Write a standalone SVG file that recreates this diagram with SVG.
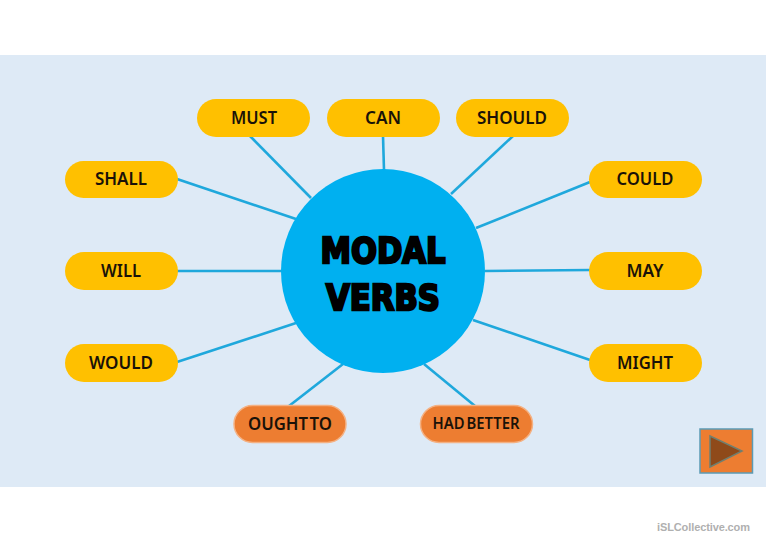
<svg xmlns="http://www.w3.org/2000/svg" width="766" height="542" viewBox="0 0 766 542">
<style>
.n{fill:#ffc000}
.o{fill:#ed7d31;stroke:#f4b183;stroke-width:1.500}
.t{font-family:"Noto Sans","Open Sans",sans-serif;font-weight:600;font-size:18px;fill:#1a1208;text-anchor:middle}
.h{font-family:"DejaVu Sans",sans-serif;font-weight:700;font-size:35px;fill:#000;stroke:#000;stroke-width:2.500;text-anchor:middle}
#connectors line{stroke:#1fa8dc;stroke-width:2.600}
</style>
<rect width="766" height="542" fill="#fff"/>
<rect y="55" width="766" height="432" fill="#deeaf6"/>
<g id="connectors">
<line x1="250" y1="136" x2="311" y2="198"/>
<line x1="383" y1="136" x2="384" y2="170"/>
<line x1="513" y1="136" x2="451" y2="194"/>
<line x1="177" y1="179" x2="296" y2="219"/>
<line x1="590" y1="182" x2="476" y2="228"/>
<line x1="177" y1="271" x2="282" y2="271"/>
<line x1="485" y1="271" x2="590" y2="270"/>
<line x1="177" y1="362" x2="296" y2="323"/>
<line x1="590" y1="360" x2="473" y2="320"/>
<line x1="289" y1="406" x2="343" y2="364"/>
<line x1="475" y1="406" x2="424" y2="364"/>
</g>
<g id="center"><circle cx="383" cy="271" r="102" fill="#00b0f0"/>
<text class="h" x="383" y="263" textLength="125" lengthAdjust="spacingAndGlyphs">MODAL</text>
<text class="h" x="383" y="310" textLength="114" lengthAdjust="spacingAndGlyphs">VERBS</text></g>
<g id="must"><rect class="n" x="197" y="99" width="113" height="38" rx="19"/><text class="t" x="254" y="124" textLength="46" lengthAdjust="spacingAndGlyphs">MUST</text></g>
<g id="can"><rect class="n" x="327" y="99" width="113" height="38" rx="19"/><text class="t" x="383" y="124" textLength="36" lengthAdjust="spacingAndGlyphs">CAN</text></g>
<g id="should"><rect class="n" x="456" y="99" width="113" height="38" rx="19"/><text class="t" x="512" y="124" textLength="70" lengthAdjust="spacingAndGlyphs">SHOULD</text></g>
<g id="shall"><rect class="n" x="65" y="161" width="113" height="37" rx="18.500"/><text class="t" x="121" y="185" textLength="52" lengthAdjust="spacingAndGlyphs">SHALL</text></g>
<g id="could"><rect class="n" x="589" y="161" width="113" height="37" rx="18.500"/><text class="t" x="645" y="185" textLength="57" lengthAdjust="spacingAndGlyphs">COULD</text></g>
<g id="will"><rect class="n" x="65" y="252" width="113" height="38" rx="19"/><text class="t" x="121" y="277" textLength="40" lengthAdjust="spacingAndGlyphs">WILL</text></g>
<g id="may"><rect class="n" x="589" y="252" width="113" height="38" rx="19"/><text class="t" x="645" y="277" textLength="37" lengthAdjust="spacingAndGlyphs">MAY</text></g>
<g id="would"><rect class="n" x="65" y="344" width="113" height="38" rx="19"/><text class="t" x="121" y="369" textLength="64" lengthAdjust="spacingAndGlyphs">WOULD</text></g>
<g id="might"><rect class="n" x="589" y="344" width="113" height="38" rx="19"/><text class="t" x="645" y="369" textLength="56" lengthAdjust="spacingAndGlyphs">MIGHT</text></g>
<g id="ought-to"><rect class="o" x="234" y="405.500" width="112" height="37" rx="18.500"/><text class="t" x="290" y="430" word-spacing="-3" textLength="84" lengthAdjust="spacingAndGlyphs">OUGHT TO</text></g>
<g id="had-better"><rect class="o" x="420.500" y="405.500" width="112" height="37" rx="18.500"/><text class="t" x="476" y="429" word-spacing="-2" style="font-size:16px" textLength="87" lengthAdjust="spacingAndGlyphs">HAD BETTER</text></g>
<g id="next"><rect x="700" y="429" width="52.500" height="44" fill="#ed7d31" stroke="#5b9bb5" stroke-width="1.500"/><polygon points="710,436 742,451 710,467" fill="#8f4a1a" stroke="#6f7f70" stroke-width="1.500"/></g>
<text x="750" y="531" text-anchor="end" textLength="93" font-family="'Liberation Sans',Arial,sans-serif" font-weight="700" font-size="11" fill="#b0b0b0">iSLCollective.com</text>
</svg>
